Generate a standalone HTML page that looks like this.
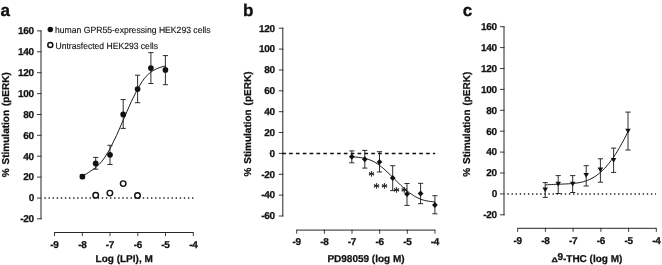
<!DOCTYPE html>
<html><head><meta charset="utf-8"><title>Figure</title>
<style>
html,body{margin:0;padding:0;background:#fff;}
svg{display:block}
text{text-rendering:geometricPrecision;font-family:"Liberation Sans",Arial,Helvetica,sans-serif;fill:#111;}
.b{font-size:10px;font-weight:bold;stroke:#111;stroke-width:0.25px;}
.t{letter-spacing:-0.3px;}
.r{font-size:9px;stroke:#111;stroke-width:0.12px;}
.pl{font-size:17px;font-weight:bold;stroke:#111;stroke-width:0.35px;}
.st{font-family:"Liberation Serif","Times New Roman",serif;font-size:13px;stroke:#111;stroke-width:0.3px;}
</style></head><body>
<svg width="662" height="265" viewBox="0 0 662 265">
<rect width="662" height="265" fill="#fff"/>
<text x="0.5" y="15.8" class="pl">a</text>
<path d="M41.0,30.430000000000007 V219.35" stroke="#262626" stroke-width="1.0" fill="none"/>
<path d="M37.0,30.9 H41.50" stroke="#262626" stroke-width="0.9" fill="none"/>
<text x="33.9" y="34.2" text-anchor="end" class="b t">160</text>
<path d="M37.0,51.8 H41.50" stroke="#262626" stroke-width="0.9" fill="none"/>
<text x="33.9" y="55.1" text-anchor="end" class="b t">140</text>
<path d="M37.0,72.7 H41.50" stroke="#262626" stroke-width="0.9" fill="none"/>
<text x="33.9" y="76.0" text-anchor="end" class="b t">120</text>
<path d="M37.0,93.6 H41.50" stroke="#262626" stroke-width="0.9" fill="none"/>
<text x="33.9" y="96.9" text-anchor="end" class="b t">100</text>
<path d="M37.0,114.5 H41.50" stroke="#262626" stroke-width="0.9" fill="none"/>
<text x="33.9" y="117.8" text-anchor="end" class="b t">80</text>
<path d="M37.0,135.3 H41.50" stroke="#262626" stroke-width="0.9" fill="none"/>
<text x="33.9" y="138.6" text-anchor="end" class="b t">60</text>
<path d="M37.0,156.2 H41.50" stroke="#262626" stroke-width="0.9" fill="none"/>
<text x="33.9" y="159.5" text-anchor="end" class="b t">40</text>
<path d="M37.0,177.1 H41.50" stroke="#262626" stroke-width="0.9" fill="none"/>
<text x="33.9" y="180.4" text-anchor="end" class="b t">20</text>
<path d="M37.0,198.0 H41.50" stroke="#262626" stroke-width="0.9" fill="none"/>
<text x="33.9" y="201.3" text-anchor="end" class="b t">0</text>
<path d="M37.0,218.8 H41.50" stroke="#262626" stroke-width="0.9" fill="none"/>
<text x="33.9" y="222.2" text-anchor="end" class="b t">-20</text>
<path d="M54.5,232.5 H193.3" stroke="#262626" stroke-width="1.0" fill="none"/>
<path d="M54.5,232.00 V236.1" stroke="#262626" stroke-width="0.9" fill="none"/>
<text x="54.5" y="247.6" text-anchor="middle" class="b t">-9</text>
<path d="M82.3,232.00 V236.1" stroke="#262626" stroke-width="0.9" fill="none"/>
<text x="82.3" y="247.6" text-anchor="middle" class="b t">-8</text>
<path d="M110.0,232.00 V236.1" stroke="#262626" stroke-width="0.9" fill="none"/>
<text x="110.0" y="247.6" text-anchor="middle" class="b t">-7</text>
<path d="M137.8,232.00 V236.1" stroke="#262626" stroke-width="0.9" fill="none"/>
<text x="137.8" y="247.6" text-anchor="middle" class="b t">-6</text>
<path d="M165.5,232.00 V236.1" stroke="#262626" stroke-width="0.9" fill="none"/>
<text x="165.5" y="247.6" text-anchor="middle" class="b t">-5</text>
<path d="M193.3,232.00 V236.1" stroke="#262626" stroke-width="0.9" fill="none"/>
<text x="193.3" y="247.6" text-anchor="middle" class="b t">-4</text>
<text transform="translate(9.0,124.7) rotate(-90)" text-anchor="middle" class="b" style="word-spacing:1.1px">% Stimulation (pERK)</text>
<text x="124.2" y="261.6" text-anchor="middle" class="b">Log (LPI), M</text>
<path d="M44.4,197.97 H194" stroke="#222" stroke-width="1.4" stroke-dasharray="1.4 2.7" fill="none"/>
<path d="M82.4,176.4 L84.5,174.9 L86.7,173.6 L88.8,172.3 L90.9,170.9 L93.0,169.5 L95.2,167.9 L97.3,166.1 L99.4,164.1 L101.6,161.7 L103.7,158.9 L105.8,155.8 L107.9,152.3 L110.1,148.5 L112.2,144.4 L114.3,140.0 L116.5,135.5 L118.6,130.8 L120.7,125.9 L122.8,121.0 L125.0,116.1 L127.1,111.2 L129.2,106.4 L131.3,101.7 L133.5,97.2 L135.6,92.9 L137.7,88.8 L139.9,85.1 L142.0,81.8 L144.1,78.8 L146.2,76.3 L148.4,74.2 L150.5,72.4 L152.6,70.9 L154.8,69.6 L156.9,68.6 L159.0,67.8 L161.1,67.1 L163.3,66.5 L165.4,66.0" stroke="#111" stroke-width="0.95" fill="none"/>
<path d="M82.4,174.6 V178.6 M79.8,174.6 h5.2 M79.8,178.6 h5.2" stroke="#222" stroke-width="0.95" fill="none"/>
<path d="M95.7,157.4 V169.2 M93.1,157.4 h5.2 M93.1,169.2 h5.2" stroke="#222" stroke-width="0.95" fill="none"/>
<path d="M110.0,145.3 V164.5 M107.4,145.3 h5.2 M107.4,164.5 h5.2" stroke="#222" stroke-width="0.95" fill="none"/>
<path d="M123.2,99.6 V128.4 M120.6,99.6 h5.2 M120.6,128.4 h5.2" stroke="#222" stroke-width="0.95" fill="none"/>
<path d="M137.6,75.2 V102.7 M135.0,75.2 h5.2 M135.0,102.7 h5.2" stroke="#222" stroke-width="0.95" fill="none"/>
<path d="M150.9,52.6 V83.5 M148.3,52.6 h5.2 M148.3,83.5 h5.2" stroke="#222" stroke-width="0.95" fill="none"/>
<path d="M165.4,55.6 V84.7 M162.8,55.6 h5.2 M162.8,84.7 h5.2" stroke="#222" stroke-width="0.95" fill="none"/>
<circle cx="82.4" cy="176.6" r="2.85" fill="#111"/>
<circle cx="95.7" cy="163.4" r="2.85" fill="#111"/>
<circle cx="110" cy="154.8" r="2.85" fill="#111"/>
<circle cx="123.2" cy="114.4" r="2.85" fill="#111"/>
<circle cx="137.6" cy="89.1" r="2.85" fill="#111"/>
<circle cx="150.9" cy="68.1" r="2.85" fill="#111"/>
<circle cx="165.4" cy="69.9" r="2.85" fill="#111"/>
<circle cx="95.7" cy="195.2" r="2.75" fill="#fff" stroke="#111" stroke-width="1.45"/>
<circle cx="109.9" cy="193.1" r="2.75" fill="#fff" stroke="#111" stroke-width="1.45"/>
<circle cx="123.2" cy="183.6" r="2.75" fill="#fff" stroke="#111" stroke-width="1.45"/>
<circle cx="137.5" cy="195.4" r="2.75" fill="#fff" stroke="#111" stroke-width="1.45"/>
<circle cx="50.3" cy="29.5" r="2.75" fill="#111"/>
<circle cx="50.3" cy="45.1" r="2.5" fill="#fff" stroke="#111" stroke-width="1.5"/>
<text x="55.0" y="33.1" class="r" textLength="155.6" lengthAdjust="spacingAndGlyphs">human GPR55-expressing HEK293 cells</text>
<text x="55.5" y="48.5" class="r" textLength="102.5" lengthAdjust="spacingAndGlyphs">Untrasfected HEK293 cells</text>
<text x="243.0" y="15.8" class="pl">b</text>
<path d="M282.8,27.74000000000001 V216.48000000000002" stroke="#262626" stroke-width="1.0" fill="none"/>
<path d="M278.8,28.2 H283.30" stroke="#262626" stroke-width="0.9" fill="none"/>
<text x="274.7" y="31.5" text-anchor="end" class="b t">120</text>
<path d="M278.8,49.1 H283.30" stroke="#262626" stroke-width="0.9" fill="none"/>
<text x="274.7" y="52.4" text-anchor="end" class="b t">100</text>
<path d="M278.8,70.0 H283.30" stroke="#262626" stroke-width="0.9" fill="none"/>
<text x="274.7" y="73.3" text-anchor="end" class="b t">80</text>
<path d="M278.8,90.8 H283.30" stroke="#262626" stroke-width="0.9" fill="none"/>
<text x="274.7" y="94.1" text-anchor="end" class="b t">60</text>
<path d="M278.8,111.7 H283.30" stroke="#262626" stroke-width="0.9" fill="none"/>
<text x="274.7" y="115.0" text-anchor="end" class="b t">40</text>
<path d="M278.8,132.5 H283.30" stroke="#262626" stroke-width="0.9" fill="none"/>
<text x="274.7" y="135.8" text-anchor="end" class="b t">20</text>
<path d="M278.8,153.4 H283.30" stroke="#262626" stroke-width="0.9" fill="none"/>
<text x="274.7" y="156.7" text-anchor="end" class="b t">0</text>
<path d="M278.8,174.3 H283.30" stroke="#262626" stroke-width="0.9" fill="none"/>
<text x="274.7" y="177.6" text-anchor="end" class="b t">-20</text>
<path d="M278.8,195.1 H283.30" stroke="#262626" stroke-width="0.9" fill="none"/>
<text x="274.7" y="198.4" text-anchor="end" class="b t">-40</text>
<path d="M278.8,216.0 H283.30" stroke="#262626" stroke-width="0.9" fill="none"/>
<text x="274.7" y="219.3" text-anchor="end" class="b t">-60</text>
<path d="M296.7,230.1 H435.0" stroke="#262626" stroke-width="1.0" fill="none"/>
<path d="M296.7,229.60 V233.7" stroke="#262626" stroke-width="0.9" fill="none"/>
<text x="296.7" y="245.2" text-anchor="middle" class="b t">-9</text>
<path d="M324.4,229.60 V233.7" stroke="#262626" stroke-width="0.9" fill="none"/>
<text x="324.4" y="245.2" text-anchor="middle" class="b t">-8</text>
<path d="M352.0,229.60 V233.7" stroke="#262626" stroke-width="0.9" fill="none"/>
<text x="352.0" y="245.2" text-anchor="middle" class="b t">-7</text>
<path d="M379.7,229.60 V233.7" stroke="#262626" stroke-width="0.9" fill="none"/>
<text x="379.7" y="245.2" text-anchor="middle" class="b t">-6</text>
<path d="M407.3,229.60 V233.7" stroke="#262626" stroke-width="0.9" fill="none"/>
<text x="407.3" y="245.2" text-anchor="middle" class="b t">-5</text>
<path d="M435.0,229.60 V233.7" stroke="#262626" stroke-width="0.9" fill="none"/>
<text x="435.0" y="245.2" text-anchor="middle" class="b t">-4</text>
<text transform="translate(251.0,124.0) rotate(-90)" text-anchor="middle" class="b" style="word-spacing:1.1px">% Stimulation (pERK)</text>
<text x="366" y="261.7" text-anchor="middle" class="b">PD98059 (log M)</text>
<path d="M282.2,153.4 H435.2" stroke="#111" stroke-width="1.5" stroke-dasharray="3.7 3.15" fill="none"/>
<path d="M351.8,156.8 L353.9,156.9 L356.1,157.1 L358.2,157.3 L360.3,157.6 L362.5,157.9 L364.6,158.3 L366.7,158.9 L368.8,159.5 L371.0,160.4 L373.1,161.3 L375.2,162.5 L377.4,163.8 L379.5,165.4 L381.6,167.0 L383.8,168.8 L385.9,170.8 L388.0,172.8 L390.2,174.8 L392.3,176.9 L394.4,179.0 L396.5,181.1 L398.7,183.2 L400.8,185.3 L402.9,187.3 L405.1,189.2 L407.2,191.0 L409.3,192.7 L411.5,194.2 L413.6,195.6 L415.7,196.9 L417.9,197.9 L420.0,198.9 L422.1,199.7 L424.2,200.3 L426.4,200.8 L428.5,201.2 L430.6,201.5 L432.8,201.7 L434.9,201.8" stroke="#111" stroke-width="0.95" fill="none"/>
<path d="M351.8,150.9 V162.8 M349.2,150.9 h5.2 M349.2,162.8 h5.2" stroke="#222" stroke-width="0.95" fill="none"/>
<path d="M364.8,150.4 V168.1 M362.2,150.4 h5.2 M362.2,168.1 h5.2" stroke="#222" stroke-width="0.95" fill="none"/>
<path d="M379.5,151.7 V172.0 M376.9,151.7 h5.2 M376.9,172.0 h5.2" stroke="#222" stroke-width="0.95" fill="none"/>
<path d="M392.7,165.7 V190.6 M390.1,165.7 h5.2 M390.1,190.6 h5.2" stroke="#222" stroke-width="0.95" fill="none"/>
<path d="M407.0,183.5 V205.4 M404.4,183.5 h5.2 M404.4,205.4 h5.2" stroke="#222" stroke-width="0.95" fill="none"/>
<path d="M420.6,183.3 V203.7 M418.0,183.3 h5.2 M418.0,203.7 h5.2" stroke="#222" stroke-width="0.95" fill="none"/>
<path d="M434.9,195.7 V213.8 M432.3,195.7 h5.2 M432.3,213.8 h5.2" stroke="#222" stroke-width="0.95" fill="none"/>
<path d="M351.8,153.8 l2.85,3.0 l-2.85,3.0 l-2.85,-3.0 z" fill="#111"/>
<path d="M364.8,156.2 l2.85,3.0 l-2.85,3.0 l-2.85,-3.0 z" fill="#111"/>
<path d="M379.5,159.1 l2.85,3.0 l-2.85,3.0 l-2.85,-3.0 z" fill="#111"/>
<path d="M392.7,175.1 l2.85,3.0 l-2.85,3.0 l-2.85,-3.0 z" fill="#111"/>
<path d="M407.0,191.1 l2.85,3.0 l-2.85,3.0 l-2.85,-3.0 z" fill="#111"/>
<path d="M420.6,190.5 l2.85,3.0 l-2.85,3.0 l-2.85,-3.0 z" fill="#111"/>
<path d="M434.9,201.9 l2.85,3.0 l-2.85,3.0 l-2.85,-3.0 z" fill="#111"/>
<text x="368.35" y="180.1" class="st">*</text>
<text x="373.35 381.35" y="192.4" class="st">**</text>
<text x="393.15 401.05" y="195.5" class="st">**</text>
<text x="462.8" y="15.8" class="pl">c</text>
<path d="M504.0,26.24000000000001 V215.34" stroke="#262626" stroke-width="1.0" fill="none"/>
<path d="M500.0,26.7 H504.50" stroke="#262626" stroke-width="0.9" fill="none"/>
<text x="496.9" y="30.0" text-anchor="end" class="b t">160</text>
<path d="M500.0,47.6 H504.50" stroke="#262626" stroke-width="0.9" fill="none"/>
<text x="496.9" y="50.9" text-anchor="end" class="b t">140</text>
<path d="M500.0,68.5 H504.50" stroke="#262626" stroke-width="0.9" fill="none"/>
<text x="496.9" y="71.8" text-anchor="end" class="b t">120</text>
<path d="M500.0,89.4 H504.50" stroke="#262626" stroke-width="0.9" fill="none"/>
<text x="496.9" y="92.7" text-anchor="end" class="b t">100</text>
<path d="M500.0,110.3 H504.50" stroke="#262626" stroke-width="0.9" fill="none"/>
<text x="496.9" y="113.6" text-anchor="end" class="b t">80</text>
<path d="M500.0,131.2 H504.50" stroke="#262626" stroke-width="0.9" fill="none"/>
<text x="496.9" y="134.5" text-anchor="end" class="b t">60</text>
<path d="M500.0,152.1 H504.50" stroke="#262626" stroke-width="0.9" fill="none"/>
<text x="496.9" y="155.4" text-anchor="end" class="b t">40</text>
<path d="M500.0,173.0 H504.50" stroke="#262626" stroke-width="0.9" fill="none"/>
<text x="496.9" y="176.3" text-anchor="end" class="b t">20</text>
<path d="M500.0,193.9 H504.50" stroke="#262626" stroke-width="0.9" fill="none"/>
<text x="496.9" y="197.2" text-anchor="end" class="b t">0</text>
<path d="M500.0,214.8 H504.50" stroke="#262626" stroke-width="0.9" fill="none"/>
<text x="496.9" y="218.1" text-anchor="end" class="b t">-20</text>
<path d="M517.7,228.3 H656.3" stroke="#262626" stroke-width="1.0" fill="none"/>
<path d="M517.7,227.80 V231.9" stroke="#262626" stroke-width="0.9" fill="none"/>
<text x="517.7" y="243.5" text-anchor="middle" class="b t">-9</text>
<path d="M545.4,227.80 V231.9" stroke="#262626" stroke-width="0.9" fill="none"/>
<text x="545.4" y="243.5" text-anchor="middle" class="b t">-8</text>
<path d="M573.1,227.80 V231.9" stroke="#262626" stroke-width="0.9" fill="none"/>
<text x="573.1" y="243.5" text-anchor="middle" class="b t">-7</text>
<path d="M600.9,227.80 V231.9" stroke="#262626" stroke-width="0.9" fill="none"/>
<text x="600.9" y="243.5" text-anchor="middle" class="b t">-6</text>
<path d="M628.6,227.80 V231.9" stroke="#262626" stroke-width="0.9" fill="none"/>
<text x="628.6" y="243.5" text-anchor="middle" class="b t">-5</text>
<path d="M656.3,227.80 V231.9" stroke="#262626" stroke-width="0.9" fill="none"/>
<text x="656.3" y="243.5" text-anchor="middle" class="b t">-4</text>
<text transform="translate(470.4,124.2) rotate(-90)" text-anchor="middle" class="b" style="word-spacing:1.1px">% Stimulation (pERK)</text>
<text transform="translate(551.5,262) scale(1.32,1)" class="b" style="font-size:6.7px">Δ</text>
<text x="557.4" y="262" class="b"><tspan dy="-2.1">9</tspan><tspan dy="2.1">-THC (log M)</tspan></text>
<path d="M507.4,193.94 H655.9" stroke="#222" stroke-width="1.4" stroke-dasharray="1.4 2.7" fill="none"/>
<path d="M545.3,185.0 L547.4,184.8 L549.5,184.6 L551.7,184.5 L553.8,184.4 L555.9,184.3 L558.0,184.3 L560.1,184.2 L562.3,184.1 L564.4,184.0 L566.5,183.9 L568.6,183.8 L570.7,183.6 L572.9,183.5 L575.0,183.2 L577.1,183.0 L579.2,182.6 L581.3,182.2 L583.5,181.7 L585.6,181.0 L587.7,180.3 L589.8,179.4 L592.0,178.3 L594.1,177.1 L596.2,175.7 L598.3,174.1 L600.4,172.4 L602.6,170.4 L604.7,168.3 L606.8,165.9 L608.9,163.4 L611.0,160.6 L613.2,157.7 L615.3,154.5 L617.4,151.2 L619.5,147.6 L621.6,143.8 L623.8,139.9 L625.9,135.8 L628.0,131.4" stroke="#111" stroke-width="0.95" fill="none"/>
<path d="M545.2,182.6 V197.4 M542.6,182.6 h5.2 M542.6,197.4 h5.2" stroke="#222" stroke-width="0.95" fill="none"/>
<path d="M558.2,175.6 V193.5 M555.6,175.6 h5.2 M555.6,193.5 h5.2" stroke="#222" stroke-width="0.95" fill="none"/>
<path d="M572.7,175.6 V192.5 M570.1,175.6 h5.2 M570.1,192.5 h5.2" stroke="#222" stroke-width="0.95" fill="none"/>
<path d="M586.2,165.7 V186.0 M583.6,165.7 h5.2 M583.6,186.0 h5.2" stroke="#222" stroke-width="0.95" fill="none"/>
<path d="M600.4,158.8 V182.2 M597.8,158.8 h5.2 M597.8,182.2 h5.2" stroke="#222" stroke-width="0.95" fill="none"/>
<path d="M613.6,148.1 V172.4 M611.0,148.1 h5.2 M611.0,172.4 h5.2" stroke="#222" stroke-width="0.95" fill="none"/>
<path d="M628.0,112.1 V150.0 M625.4,112.1 h5.2 M625.4,150.0 h5.2" stroke="#222" stroke-width="0.95" fill="none"/>
<path d="M542.45,187.5 h5.5 l-2.75,4.8 z" fill="#111"/>
<path d="M555.45,181.7 h5.5 l-2.75,4.8 z" fill="#111"/>
<path d="M569.95,181.7 h5.5 l-2.75,4.8 z" fill="#111"/>
<path d="M583.45,172.9 h5.5 l-2.75,4.8 z" fill="#111"/>
<path d="M597.65,167.6 h5.5 l-2.75,4.8 z" fill="#111"/>
<path d="M610.85,158.0 h5.5 l-2.75,4.8 z" fill="#111"/>
<path d="M625.25,128.8 h5.5 l-2.75,4.8 z" fill="#111"/>
</svg>
</body></html>
